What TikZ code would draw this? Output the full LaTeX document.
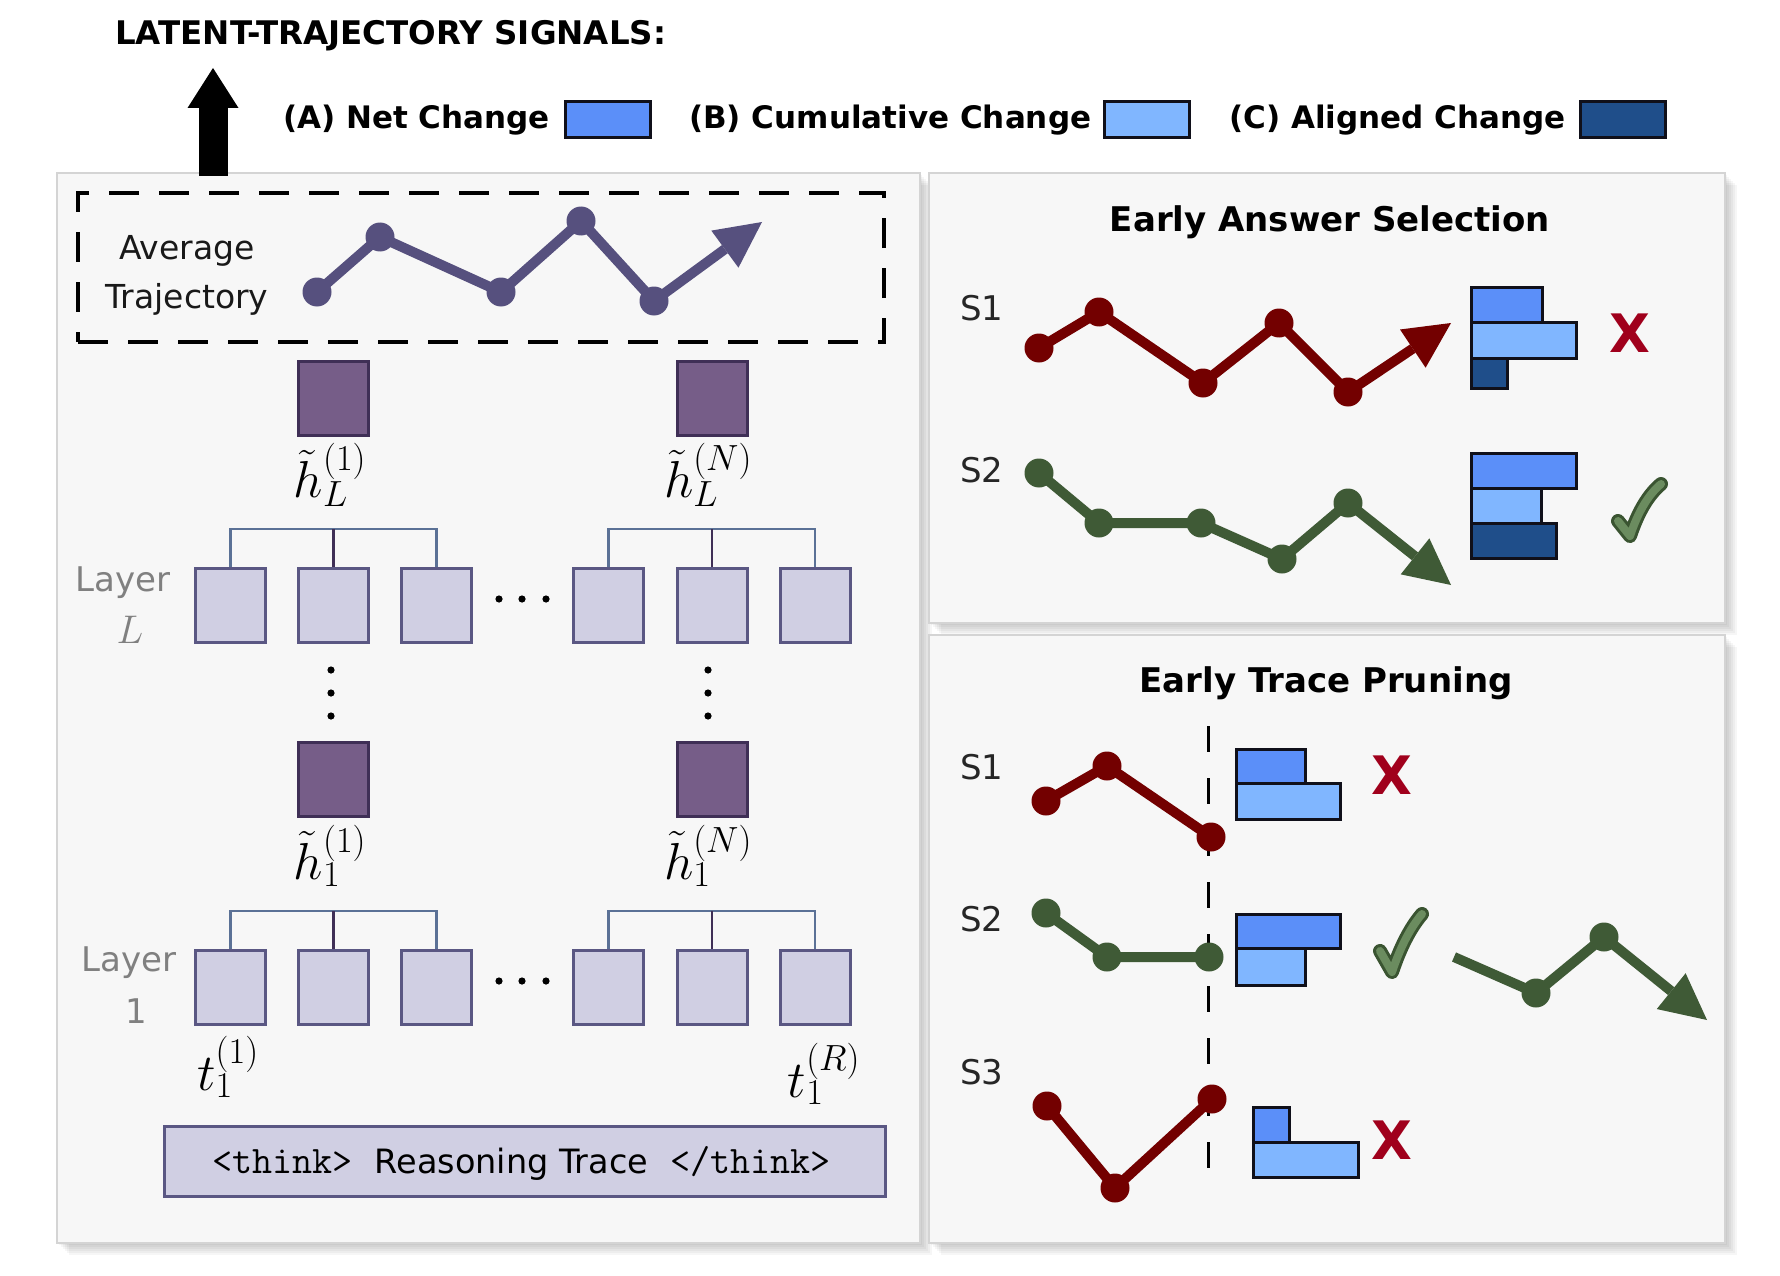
\RequirePackage{fix-cm}
\documentclass[tikz,border=0pt]{standalone}
\usepackage[no-math]{fontspec}
\setmainfont{DejaVu Sans}
\usetikzlibrary{arrows.meta}
\definecolor{panelfill}{HTML}{F7F7F7}
\definecolor{panelline}{HTML}{D4D4D4}
\definecolor{avgc}{HTML}{56507E}
\definecolor{hfill}{HTML}{765D88}
\definecolor{hdraw}{HTML}{3F2F56}
\definecolor{tfill}{HTML}{D0CFE3}
\definecolor{tdraw}{HTML}{5A5783}
\definecolor{brk}{HTML}{5B7196}
\definecolor{redc}{HTML}{730000}
\definecolor{greenc}{HTML}{3F5A36}
\definecolor{netc}{HTML}{5B8FF9}
\definecolor{cumc}{HTML}{80B6FF}
\definecolor{alic}{HTML}{1F4E8A}
\definecolor{barline}{HTML}{10101A}
\definecolor{xred}{HTML}{A0001C}
\definecolor{chkfill}{HTML}{6B8C5F}
\definecolor{chkline}{HTML}{3A5431}
\definecolor{laygray}{HTML}{808080}
\begin{document}
\begin{tikzpicture}[x=1pt,y=-1pt,
  panel/.style={draw=panelline, fill=panelfill, line width=2.5pt, inner sep=0},
  titletext/.style={font=\bfseries\fontsize{32.5}{36}\selectfont, text=black},
  legtext/.style={font=\bfseries\fontsize{31}{36}\selectfont, text=black},
  sectitle/.style={font=\bfseries\fontsize{34}{40}\selectfont, text=black},
  bodytext/.style={font=\fontsize{33}{40}\selectfont, text=black!90},
  slabel/.style={font=\fontsize{34}{40}\selectfont, text=black!85},
  laylabel/.style={font=\fontsize{34}{40}\selectfont, text=laygray},
  mathlabel/.style={font=\fontsize{52}{56}\selectfont, inner sep=0},
  legbox/.style={draw=barline, line width=3pt, minimum width=85, minimum height=36, inner sep=0},
  hbox/.style={draw=hdraw, fill=hfill, line width=3pt, minimum width=70, minimum height=74, inner sep=0},
  tbox/.style={draw=tdraw, fill=tfill, line width=3pt, minimum width=70, minimum height=74, inner sep=0},
  bracket/.style={draw=brk, line width=2.5pt},
  bracketmid/.style={draw=hdraw, line width=2.5pt},
  dashbox/.style={draw=black, line width=3.5pt, dash pattern=on 30pt off 20pt, minimum width=806, minimum height=149, inner sep=0},
  traj/.style={line width=10pt, line join=round},
  tip/.style={-{Triangle[length=46pt,width=46pt,line width=0pt]}},
  bigarrow/.style={line width=29pt, -{Triangle[length=40pt,width=51pt,line width=0pt]}},
  barA/.style={draw=barline, fill=netc, line width=3pt},
  barB/.style={draw=barline, fill=cumc, line width=3pt},
  barC/.style={draw=barline, fill=alic, line width=3pt},
  xmark/.style={font=\bfseries\fontsize{53}{53}\selectfont, text=xred, inner sep=0},
  dotsc/.style={fill=black},
]
\useasboundingbox (0,0) rectangle (1780,1276);
\fill[white] (0,0) rectangle (1780,1276);

% ---------- shadows ----------
\foreach \xa/\ya/\xb/\yb in {57/173/920/1243, 929/173/1725/623, 929/635/1725/1243}{
  \foreach \k in {2,4,6,8,10,12}{
    \fill[black,opacity=0.035] (\xa+\k,\ya+\k) rectangle (\xb+\k,\yb+\k);
  }
}

% ---------- panels ----------
\node[panel, minimum width=863, minimum height=1070] (lp) at (488.5,708) {};
\node[panel, minimum width=796, minimum height=450] (tp) at (1327,398) {};
\node[panel, minimum width=796, minimum height=608] (bp) at (1327,939) {};

% ---------- header ----------
\node[titletext, anchor=base west, inner sep=0] (title) at (115,45) {LATENT-TRAJECTORY SIGNALS:};
\coordinate (arrbase) at (213,176);
\coordinate (arrtip) at (213,68);
\draw[bigarrow] (arrbase) -- (arrtip);

\node[legtext, anchor=base west, inner sep=0] (legA) at (283,129) {(A) Net Change};
\node[legbox, fill=netc] (boxA) at (607.5,120) {};
\node[legtext, anchor=base west, inner sep=0] (legB) at (689,129) {(B) Cumulative Change};
\node[legbox, fill=cumc] (boxB) at (1146.5,120) {};
\node[legtext, anchor=base west, inner sep=0] (legC) at (1229,129) {(C) Aligned Change};
\node[legbox, fill=alic] (boxC) at (1622.5,120) {};

% ---------- left panel ----------
\node[dashbox] (avgbox) at (481,267.5) {};
\node[bodytext, anchor=base, inner sep=0] (avgA) at (187,259) {Average};
\node[bodytext, anchor=base, inner sep=0] (avgB) at (187,308) {Trajectory};

\coordinate (a1) at (317,292);
\coordinate (a2) at (380,237);
\coordinate (a3) at (501,292);
\coordinate (a4) at (581,221);
\coordinate (a5) at (654,301);
\coordinate (a6) at (762,222);
\draw[traj, avgc, tip] (a1) -- (a2) -- (a3) -- (a4) -- (a5) -- (a6);
\foreach \p in {a1,a2,a3,a4,a5} \fill[avgc] (\p) circle (14.5);

% h boxes (layer L)
\node[hbox] (hL1) at (333,398) {};
\node[hbox] (hLN) at (712.5,398) {};
\node[mathlabel] (hL1lab) at (330,475) {$\tilde{h}_L^{(1)}$};
\node[mathlabel] (hLNlab) at (708,475) {$\tilde{h}_L^{(N)}$};

% layer L tokens
\node[tbox] (l1) at (230.5,605.5) {};
\node[tbox] (l2) at (333.5,605.5) {};
\node[tbox] (l3) at (436.5,605.5) {};
\node[tbox] (l4) at (608.5,605.5) {};
\node[tbox] (l5) at (712,605.5) {};
\node[tbox] (l6) at (815,605.5) {};
\coordinate (jL1) at (333.5,529);
\coordinate (jL2) at (712,529);
\draw[bracket] (l1.north) |- (jL1) -| (l3.north);
\draw[bracketmid] (jL1) -- (l2.north);
\draw[bracket] (l4.north) |- (jL2) -| (l6.north);
\draw[bracketmid] (jL2) -- (l5.north);
\foreach \x in {499,522,546} \fill[dotsc] (\x,599) circle (3.6);
\node[laylabel, anchor=base, inner sep=0] (layL) at (123,591) {Layer};
\node[laylabel, anchor=base, inner sep=0, font=\fontsize{40}{42}\selectfont] (layLL) at (130,643) {$L$};

% vertical dots
\foreach \y in {670,693,716} {\fill[dotsc] (331,\y) circle (3.6); \fill[dotsc] (708,\y) circle (3.6);}

% h boxes (layer 1)
\node[hbox] (h11) at (333,779) {};
\node[hbox] (h1N) at (712.5,779) {};
\node[mathlabel] (h11lab) at (330,856) {$\tilde{h}_1^{(1)}$};
\node[mathlabel] (h1Nlab) at (708,856) {$\tilde{h}_1^{(N)}$};

% layer 1 tokens
\node[tbox] (m1) at (230.5,987.5) {};
\node[tbox] (m2) at (333.5,987.5) {};
\node[tbox] (m3) at (436.5,987.5) {};
\node[tbox] (m4) at (608.5,987.5) {};
\node[tbox] (m5) at (712,987.5) {};
\node[tbox] (m6) at (815,987.5) {};
\coordinate (j11) at (333.5,911);
\coordinate (j12) at (712,911);
\draw[bracket] (m1.north) |- (j11) -| (m3.north);
\draw[bracketmid] (j11) -- (m2.north);
\draw[bracket] (m4.north) |- (j12) -| (m6.north);
\draw[bracketmid] (j12) -- (m5.north);
\foreach \x in {499,522,546} \fill[dotsc] (\x,981) circle (3.6);
\node[laylabel, anchor=base, inner sep=0] (lay1) at (129,971) {Layer};
\node[laylabel, anchor=base, inner sep=0] (lay11) at (136,1023) {1};

\node[mathlabel] (t1lab) at (228,1067) {$t_1^{(1)}$};
\node[mathlabel] (tRlab) at (824,1074) {$t_1^{(R)}$};

% reasoning trace
\node[tbox, minimum width=721, minimum height=70] (trace) at (524.5,1161) {};
\node[anchor=base, inner sep=0, font=\fontsize{33.5}{40}\selectfont] (tracetext) at (521.5,1173)
  {{\ttfamily\fontsize{39}{40}\selectfont <think>}\hspace{22pt}Reasoning Trace\hspace{22pt}{\ttfamily\fontsize{39}{40}\selectfont </think>}};

% ---------- Early Answer Selection ----------
\node[sectitle, anchor=base, inner sep=0] (eas) at (1330,231) {Early Answer Selection};
\node[slabel, anchor=base, inner sep=0] (eS1) at (982,320) {S1};
\node[slabel, anchor=base, inner sep=0] (eS2) at (982,482) {S2};

\coordinate (r1) at (1039,348);
\coordinate (r2) at (1099,312);
\coordinate (r3) at (1203,383);
\coordinate (r4) at (1279,323);
\coordinate (r5) at (1348,392);
\coordinate (r6) at (1451,323);
\draw[traj, redc, tip] (r1) -- (r2) -- (r3) -- (r4) -- (r5) -- (r6);
\foreach \p in {r1,r2,r3,r4,r5} \fill[redc] (\p) circle (14.5);

\coordinate (g1) at (1039,473);
\coordinate (g2) at (1099,523);
\coordinate (g3) at (1201,523);
\coordinate (g4) at (1282,559);
\coordinate (g5) at (1348,503);
\coordinate (g6) at (1451,585);
\draw[traj, greenc, tip] (g1) -- (g2) -- (g3) -- (g4) -- (g5) -- (g6);
\foreach \p in {g1,g2,g3,g4,g5} \fill[greenc] (\p) circle (14.5);

\draw[barA] (1471,287) rectangle (1542,322);
\draw[barB] (1471,322) rectangle (1576,358);
\draw[barC] (1471,358) rectangle (1507,388);

\draw[barA] (1471,453) rectangle (1576,488);
\draw[barB] (1471,488) rectangle (1541,523);
\draw[barC] (1471,523) rectangle (1556,558);

\node[xmark] (x1) at (1630,333) {X};
\draw[chkline, line width=14pt, line cap=round, line join=round]
  (1618,521) -- (1630,536) .. controls (1638,512) and (1648,495) .. (1661,484);
\draw[chkfill, line width=8pt, line cap=round, line join=round]
  (1618,521) -- (1630,536) .. controls (1638,512) and (1648,495) .. (1661,484);

% ---------- Early Trace Pruning ----------
\node[sectitle, anchor=base, inner sep=0] (etp) at (1326,692) {Early Trace Pruning};
\node[slabel, anchor=base, inner sep=0] (pS1) at (982,779) {S1};
\node[slabel, anchor=base, inner sep=0] (pS2) at (982,931) {S2};
\node[slabel, anchor=base, inner sep=0] (pS3) at (982,1084) {S3};

\coordinate (cuttop) at (1208,726);
\coordinate (cutbot) at (1208,1192);
\draw[black, line width=3pt, dash pattern=on 26pt off 26pt] (cuttop) -- (cutbot);

\coordinate (p1) at (1046,801);
\coordinate (p2) at (1107,766);
\coordinate (p3) at (1211,837);
\draw[traj, redc] (p1) -- (p2) -- (p3);
\foreach \p in {p1,p2,p3} \fill[redc] (\p) circle (14.5);

\coordinate (q1) at (1046,913);
\coordinate (q2) at (1107,957);
\coordinate (q3) at (1209,957);
\draw[traj, greenc] (q1) -- (q2) -- (q3);
\foreach \p in {q1,q2,q3} \fill[greenc] (\p) circle (14.5);

\coordinate (c1) at (1454,957);
\coordinate (c2) at (1536,993);
\coordinate (c3) at (1604,937);
\coordinate (c4) at (1707,1020);
\draw[traj, greenc, tip] (c1) -- (c2) -- (c3) -- (c4);
\foreach \p in {c2,c3} \fill[greenc] (\p) circle (14.5);

\coordinate (s1) at (1047,1106);
\coordinate (s2) at (1115,1188);
\coordinate (s3) at (1212,1099);
\draw[traj, redc] (s1) -- (s2) -- (s3);
\foreach \p in {s1,s2,s3} \fill[redc] (\p) circle (14.5);

\draw[barA] (1236,749) rectangle (1305,783);
\draw[barB] (1236,783) rectangle (1340,819);

\draw[barA] (1236,914) rectangle (1340,948);
\draw[barB] (1236,948) rectangle (1305,985);

\draw[barA] (1253,1107) rectangle (1289,1142);
\draw[barB] (1253,1142) rectangle (1358,1177);

\node[xmark] (x2) at (1392,775) {X};
\node[xmark] (x3) at (1392,1140) {X};
\draw[chkline, line width=14pt, line cap=round, line join=round]
  (1380,951) -- (1392,972) .. controls (1400,948) and (1410,928) .. (1422,914);
\draw[chkfill, line width=8pt, line cap=round, line join=round]
  (1380,951) -- (1392,972) .. controls (1400,948) and (1410,928) .. (1422,914);
\end{tikzpicture}
\end{document}
